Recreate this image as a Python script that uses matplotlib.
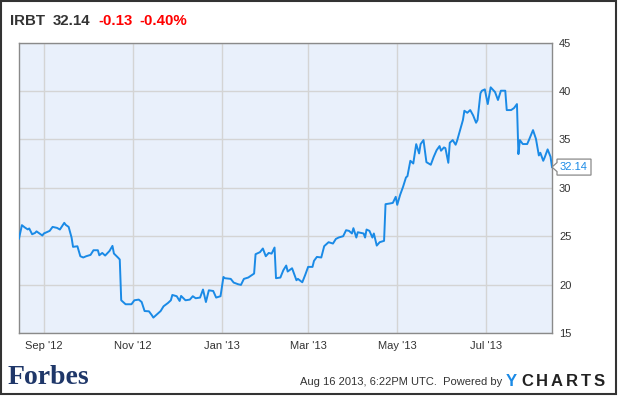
import matplotlib
matplotlib.use("Agg")
import matplotlib.pyplot as plt
import matplotlib.dates as mdates
import matplotlib.patches as mpatches
import matplotlib.transforms as mtransforms
import pandas as pd

plt.rcParams['font.family'] = ['Liberation Sans', 'DejaVu Sans']

# IRBT daily close
dates = [
    "2012-08-15", "2012-08-17", "2012-08-19", "2012-08-21", "2012-08-22", "2012-08-24",
    "2012-08-26", "2012-08-27", "2012-08-29", "2012-08-31", "2012-09-01", "2012-09-05",
    "2012-09-07", "2012-09-10", "2012-09-12", "2012-09-15", "2012-09-16", "2012-09-18",
    "2012-09-20", "2012-09-21", "2012-09-24", "2012-09-26", "2012-09-28", "2012-09-30",
    "2012-10-03", "2012-10-05", "2012-10-08", "2012-10-09", "2012-10-11", "2012-10-13",
    "2012-10-16", "2012-10-18", "2012-10-19", "2012-10-22", "2012-10-23", "2012-10-24",
    "2012-10-27", "2012-10-31", "2012-11-02", "2012-11-05", "2012-11-07", "2012-11-09",
    "2012-11-12", "2012-11-14", "2012-11-15", "2012-11-18", "2012-11-20", "2012-11-22",
    "2012-11-25", "2012-11-27", "2012-11-28", "2012-12-01", "2012-12-03", "2012-12-04",
    "2012-12-07", "2012-12-10", "2012-12-12", "2012-12-14", "2012-12-17", "2012-12-19",
    "2012-12-21", "2012-12-23", "2012-12-26", "2012-12-28", "2012-12-31", "2013-01-02",
    "2013-01-03", "2013-01-07", "2013-01-09", "2013-01-12", "2013-01-14", "2013-01-16",
    "2013-01-19", "2013-01-23", "2013-01-24", "2013-01-27", "2013-01-29", "2013-01-31",
    "2013-02-02", "2013-02-04", "2013-02-06", "2013-02-07", "2013-02-10", "2013-02-12",
    "2013-02-14", "2013-02-15", "2013-02-18", "2013-02-21", "2013-02-22", "2013-02-25",
    "2013-02-27", "2013-03-01", "2013-03-04", "2013-03-05", "2013-03-07", "2013-03-10",
    "2013-03-12", "2013-03-15", "2013-03-18", "2013-03-20", "2013-03-22", "2013-03-25",
    "2013-03-27", "2013-03-29", "2013-03-31", "2013-04-01", "2013-04-03", "2013-04-04",
    "2013-04-08", "2013-04-09", "2013-04-10", "2013-04-12", "2013-04-14", "2013-04-15",
    "2013-04-17", "2013-04-19", "2013-04-22", "2013-04-23", "2013-04-26", "2013-04-28",
    "2013-04-30", "2013-05-01", "2013-05-03", "2013-05-05", "2013-05-07", "2013-05-08",
    "2013-05-10", "2013-05-12", "2013-05-14", "2013-05-16", "2013-05-17", "2013-05-19",
    "2013-05-21", "2013-05-24", "2013-05-26", "2013-05-28", "2013-05-30", "2013-05-31",
    "2013-06-02", "2013-06-03", "2013-06-05", "2013-06-06", "2013-06-08", "2013-06-10",
    "2013-06-11", "2013-06-15", "2013-06-16", "2013-06-18", "2013-06-20", "2013-06-22",
    "2013-06-24", "2013-06-25", "2013-06-27", "2013-06-28", "2013-06-30", "2013-07-02",
    "2013-07-04", "2013-07-07", "2013-07-09", "2013-07-11", "2013-07-14", "2013-07-15",
    "2013-07-18", "2013-07-20", "2013-07-22", "2013-07-23", "2013-07-24", "2013-07-26",
    "2013-07-29", "2013-07-30", "2013-08-02", "2013-08-04", "2013-08-06", "2013-08-07",
    "2013-08-09", "2013-08-10", "2013-08-12", "2013-08-14", "2013-08-15",
]
prices = [
    24.76, 26.14, 25.90, 25.70, 25.80, 25.20,
    25.34, 25.50, 25.28, 25.07, 25.28, 25.55,
    25.96, 25.86, 25.69, 26.38, 26.17, 25.96,
    24.86, 23.90, 23.96, 22.93, 22.80, 22.93,
    23.07, 23.55, 23.55, 23.03, 23.27, 23.00,
    23.48, 24.00, 23.21, 22.76, 22.59, 18.38,
    17.97, 17.97, 18.38, 18.45, 18.20, 17.27,
    17.24, 16.83, 16.59, 17.00, 17.27, 17.76,
    18.10, 18.38, 18.93, 18.80, 18.31, 18.83,
    18.38, 18.45, 18.80, 18.59, 18.66, 19.49,
    18.20, 19.41, 19.34, 18.66, 18.80, 20.79,
    20.66, 20.59, 20.21, 20.04, 19.97, 20.59,
    20.73, 21.14, 23.14, 23.35, 23.73, 22.93,
    23.27, 23.20, 23.83, 20.66, 20.73, 21.48,
    21.97, 21.35, 21.69, 20.45, 20.59, 20.24,
    21.00, 21.83, 21.83, 22.45, 22.86, 22.80,
    23.97, 24.38, 24.24, 24.72, 24.87, 25.00,
    25.62, 25.55, 25.28, 25.83, 24.86, 25.41,
    25.28, 24.86, 25.69, 25.55, 24.86, 25.28,
    24.03, 24.38, 24.52, 28.31, 28.38, 28.44,
    29.07, 28.24, 29.27, 30.10, 31.07, 31.20,
    32.79, 32.51, 34.51, 33.55, 34.51, 34.93,
    32.65, 32.38, 33.20, 33.89, 34.31, 33.83,
    34.17, 34.10, 32.58, 34.65, 34.93, 34.45,
    34.86, 37.00, 37.96, 37.75, 38.03, 37.48,
    36.72, 37.00, 39.76, 40.03, 40.17, 38.65,
    40.38, 39.89, 39.07, 40.03, 40.03, 38.03,
    38.03, 38.24, 38.65, 33.48, 34.93, 34.52,
    34.52, 34.86, 35.96, 35.06, 33.34, 33.62,
    32.79, 33.14, 33.97, 33.20, 32.14,
]

ticker = "IRBT"
last_price = "32.14"
change = "-0.13"
change_pct = "-0.40%"
y_ticks = [15, 20, 25, 30, 35, 40, 45]
x_ticks = ["2012-09-01", "2012-11-01", "2013-01-01", "2013-03-01", "2013-05-01", "2013-07-01"]
x_range = ["2012-08-15", "2013-08-15"]

LINE = "#1a8ae6"
TEXT = "#333333"

W, H = 618, 396
fig = plt.figure(figsize=(W / 100, H / 100), dpi=100)
fig.set_facecolor("white")

# plot area in pixels: x 19..552, y 42.6..333
ax = fig.add_axes([19 / W, (H - 333) / H, (552 - 19) / W, (333 - 42.6) / H])
ax.set_facecolor("#e9f0fb")

x = pd.to_datetime(dates)
ax.plot(x, prices, color=LINE, linewidth=1.4, zorder=3, solid_joinstyle="round")

ax.set_xlim(pd.to_datetime(x_range[0]), pd.to_datetime(x_range[1]))
ax.set_ylim(y_ticks[0], y_ticks[-1])
ax.set_yticks(y_ticks)
ax.set_xticks(pd.to_datetime(x_ticks))
ax.xaxis.set_major_formatter(mdates.DateFormatter("%b '%y"))
ax.yaxis.tick_right()
ax.tick_params(axis='both', length=0, labelsize=8, colors=TEXT)
ax.tick_params(axis='x', pad=6)
ax.tick_params(axis='y', pad=5)
ax.grid(True, color="#d4d4d4", linewidth=1, zorder=0)
ax.set_axisbelow(True)
for s in ax.spines.values():
    s.set_color("#8a8a8a")
    s.set_linewidth(1)

# last value tag with pointer
px = 1 / 100
tag = [(0, 0), (5 * px, 4.5 * px), (5 * px, 8 * px), (39 * px, 8 * px),
       (39 * px, -8 * px), (5 * px, -8 * px), (5 * px, -4.5 * px)]
trans = fig.dpi_scale_trans + mtransforms.ScaledTranslation(
    mdates.date2num(x[-1]), prices[-1], ax.transData)
ax.add_patch(mpatches.Polygon(tag, closed=True, facecolor="white", edgecolor="#8a8a8a",
                              linewidth=0.9, transform=trans, clip_on=False, zorder=5))
ax.text(22 * px, 0, f"{prices[-1]:.2f}", transform=trans, color=LINE, fontsize=8,
        ha="center", va="center", zorder=6, clip_on=False)

# header
hy = 1 - 21 / H
fig.text(10 / W, hy, ticker, fontsize=10.8, fontweight="bold", color=TEXT, va="center")
fig.text(53 / W, hy, last_price, fontsize=10.8, fontweight="bold", color=TEXT, va="center")
fig.text(98 / W, hy, change, fontsize=10.8, fontweight="bold", color="#ff0000", va="center")
fig.text(139 / W, hy, change_pct, fontsize=10.8, fontweight="bold", color="#ff0000", va="center")

# footer
fig.text(8 / W, 1 - 377 / H, "Forbes", family=["Liberation Serif", "DejaVu Serif"],
         fontsize=20, fontweight="bold", color="#1f3769", va="center")
fig.text(502 / W, 1 - 382 / H, "Aug 16 2013, 6:22PM UTC.  Powered by", fontsize=8,
         color=TEXT, ha="right", va="center")
lx = 506
for i, ch in enumerate("YCHARTS"):
    fig.text(lx / W, 1 - 382 / H, ch, fontsize=12, fontweight="bold",
             color="#1a8ae6" if i == 0 else "#222222", va="center")
    lx += {"Y": 15, "T": 13}.get(ch, 15)

# outer border
fig.add_artist(mpatches.Rectangle((1 / W, 2 / H), 615 / W, 393 / H, transform=fig.transFigure,
                                  fill=False, edgecolor="#333333", linewidth=1.5))

fig.savefig("out.png", dpi=100, facecolor=fig.get_facecolor())
